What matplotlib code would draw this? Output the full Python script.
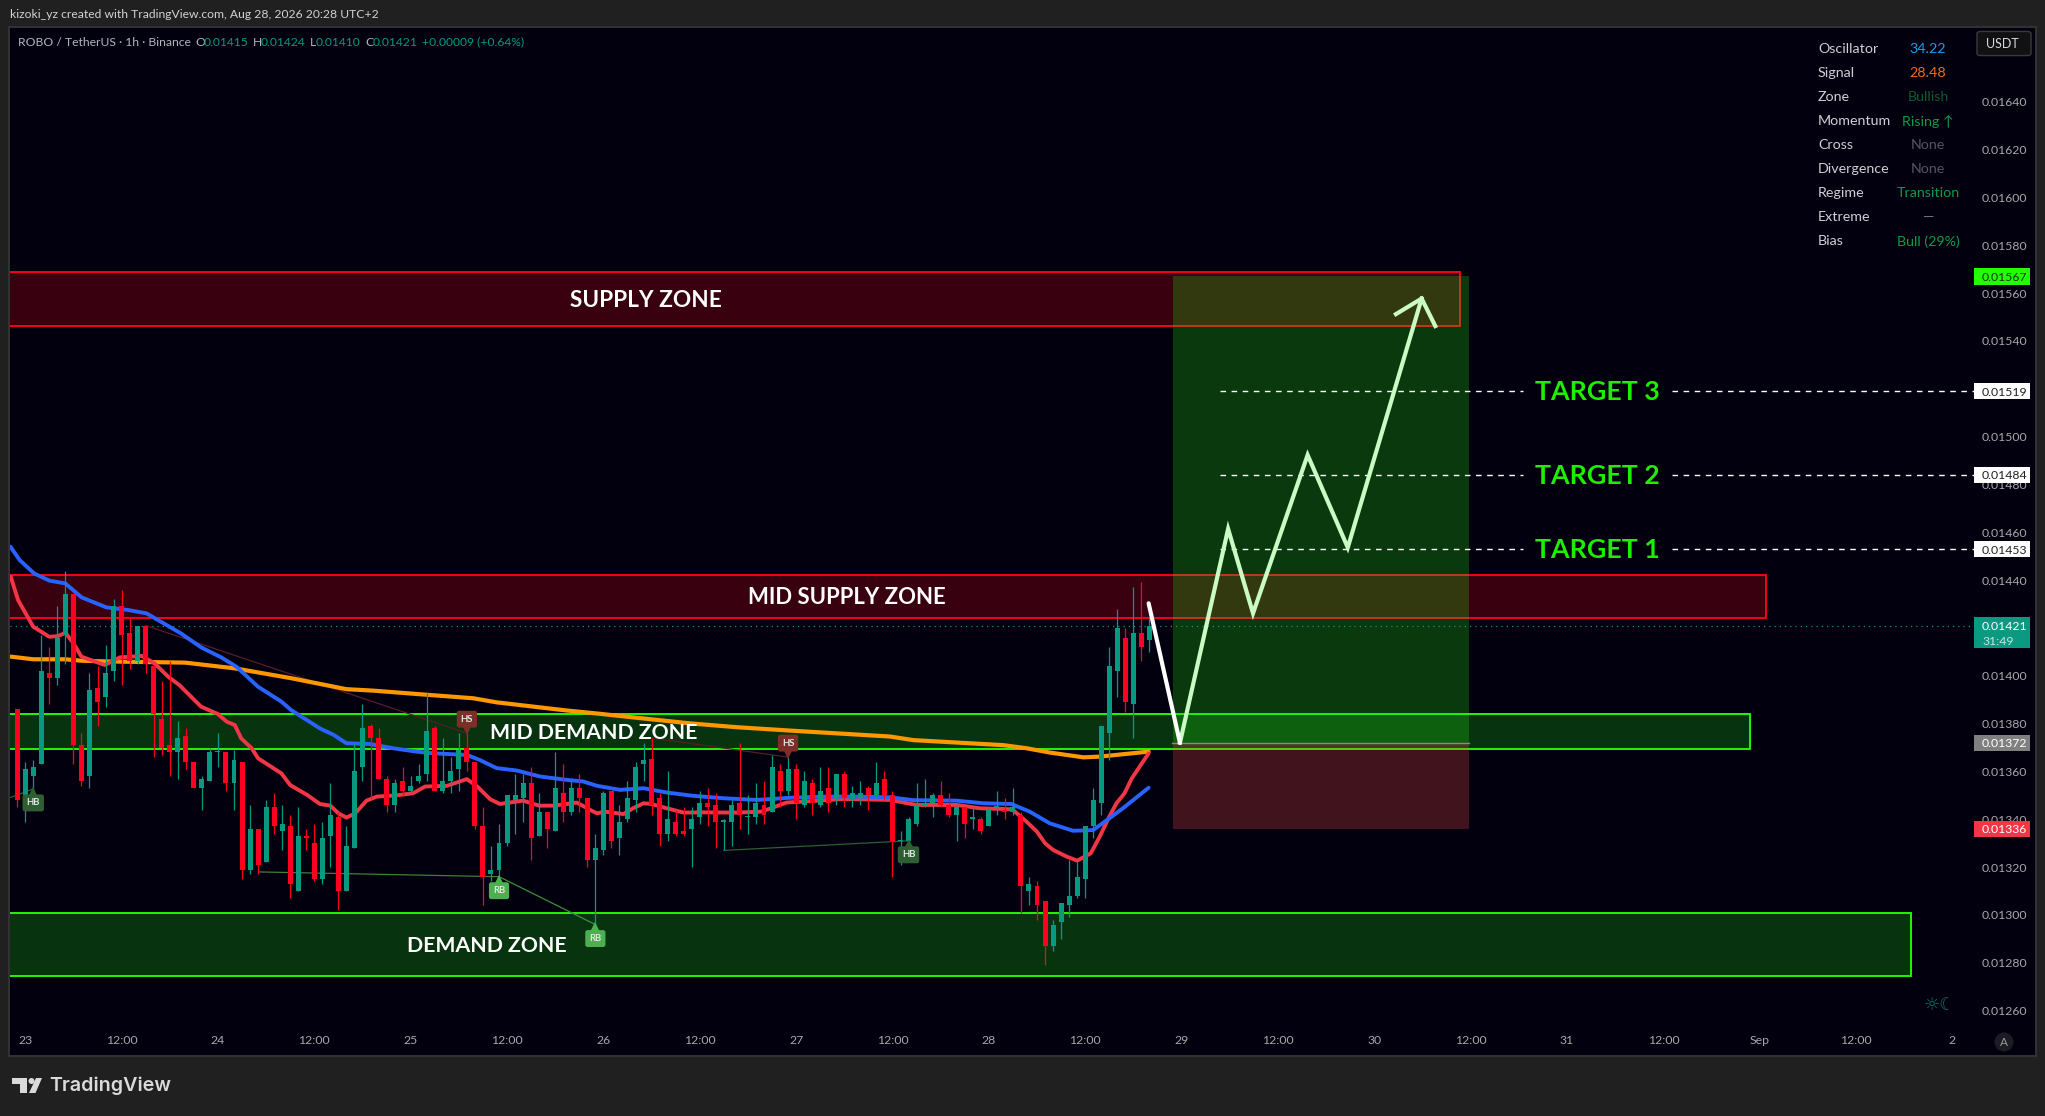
import numpy as np
import matplotlib
matplotlib.use("Agg")
import matplotlib.pyplot as plt
from matplotlib.patches import Rectangle, FancyBboxPatch, Polygon, Circle

W, H = 2045, 1116
UI_FONT = ['Lato', 'DejaVu Sans']
plt.rcParams['font.family'] = UI_FONT

# ---- data: prices in units of 0.00001 ----
opens = [1386,1350,1358,1363,1401,1399,1417,1434,1371,1358,
 1395,1391,1402,1429,1418,1406,1421,1404,1382,1371,
 1368,1375,1364,1353,1356,1368,1368,1355,1364,1319,
 1336,1322,1345,1335,1337,1310,1333,1330,1315,1333,
 1341,1310,1328,1362,1379,1374,1357,1346,1356,1352,
 1356,1359,1378,1352,1356,1361,1370,1364,1337,1317,
 1319,1330,1348,1349,1355,1333,1343,1335,1351,1343,
 1353,1349,1323,1327,1352,1332,1340,1348,1363,1365,
 1349,1334,1339,1335,1336,1341,1347,1346,1339,1339,
 1347,1341,1341,1346,1343,1360,1352,1361,1346,1355,
 1346,1353,1349,1359,1348,1349,1353,1350,1357,1350,
 1331,1331,1338,1346,1347,1350,1346,1342,1345,1340,
 1340,1337,1345,1344,1343,1342,1310,1312,1306,1287,
 1297,1304,1308,1315,1337,1347,1376,1402,1416,1388,
 1418,1415]
closes = [1348,1361,1362,1402,1399,1416,1434,1371,1356,1394,
 1389,1401,1429,1417,1406,1421,1405,1384,1370,1368,
 1374,1364,1353,1357,1368,1368,1355,1365,1319,1336,
 1321,1345,1337,1338,1313,1333,1332,1315,1332,1342,
 1310,1329,1360,1378,1374,1357,1346,1355,1352,1354,
 1358,1377,1352,1356,1360,1369,1364,1337,1316,1319,
 1330,1350,1350,1355,1332,1343,1336,1353,1343,1353,
 1349,1323,1328,1351,1331,1339,1349,1362,1365,1346,
 1334,1340,1334,1334,1340,1347,1345,1339,1339,1346,
 1342,1341,1347,1342,1362,1352,1361,1347,1356,1347,
 1352,1347,1359,1349,1351,1351,1350,1355,1350,1331,
 1331,1340,1346,1347,1350,1346,1342,1345,1338,1341,
 1335,1344,1345,1343,1345,1312,1313,1304,1287,1296,
 1305,1308,1316,1337,1348,1379,1404,1420,1389,1418,
 1412,1421]
highs = [1386,1364,1365,1417,1412,1429,1444,1434,1376,1401,
 1404,1413,1432,1436,1424,1421,1421,1404,1398,1406,
 1381,1378,1364,1358,1370,1376,1368,1369,1364,1346,
 1336,1348,1351,1346,1342,1345,1336,1338,1339,1355,
 1343,1337,1372,1388,1380,1378,1358,1357,1362,1358,
 1363,1393,1379,1374,1366,1376,1376,1364,1345,1329,
 1338,1350,1359,1359,1362,1351,1343,1368,1363,1356,
 1359,1349,1334,1352,1352,1346,1356,1364,1372,1374,
 1351,1360,1344,1345,1345,1352,1353,1351,1340,1348,
 1372,1350,1355,1356,1367,1363,1366,1363,1360,1357,
 1362,1362,1359,1360,1354,1356,1354,1364,1360,1352,
 1335,1341,1355,1357,1351,1356,1351,1346,1345,1345,
 1341,1345,1352,1349,1353,1343,1316,1314,1306,1298,
 1305,1323,1322,1337,1353,1379,1412,1428,1420,1437,
 1439,1424]
lows = [1345,1339,1352,1363,1388,1396,1405,1363,1354,1353,
 1379,1387,1398,1396,1403,1405,1401,1366,1367,1358,
 1357,1361,1353,1344,1356,1362,1352,1344,1315,1317,
 1317,1322,1334,1327,1307,1310,1327,1314,1313,1320,
 1302,1310,1328,1356,1349,1357,1343,1343,1350,1351,
 1355,1356,1352,1351,1351,1352,1360,1336,1304,1314,
 1316,1329,1334,1339,1323,1333,1328,1335,1339,1342,
 1343,1320,1296,1325,1328,1325,1339,1343,1356,1342,
 1329,1331,1333,1333,1320,1338,1337,1328,1327,1329,
 1336,1334,1338,1338,1343,1345,1350,1340,1345,1342,
 1345,1343,1346,1345,1345,1346,1344,1349,1348,1316,
 1321,1331,1337,1345,1341,1345,1341,1331,1332,1336,
 1334,1337,1342,1340,1342,1301,1304,1298,1279,1285,
 1290,1299,1307,1307,1332,1342,1365,1391,1385,1374,
 1406,1410]

blue_x = [-0.85,0.3,2.1,4,6,8,11.1,13.8,16.1,20.4,22.9,25.4,27.3,30,32.9,34.1,36.2,37.7,39.4,41,43.9,46.8,49.7,51.8,56,57.6,59.7,62.2,65.1,68.4,70.5,72.2,75.1,78,80.9,84.2,88,92.1,96.2,100.4,104.5,108.7,111.6,117,120.3,123.8,126.1,128.6,131.5,134,136,137.7,140.9]
blue_y = [1454,1448.4,1442.8,1439.8,1438.6,1432.8,1428.6,1427.5,1426.1,1417.7,1411.9,1407.7,1403.8,1395.4,1389.2,1385.7,1381.2,1378,1375.3,1371.8,1371.5,1369.7,1368.3,1367.6,1366.9,1364.8,1361.4,1360.4,1357.9,1356.5,1355.8,1354,1352.3,1353,1351.2,1349.8,1348.8,1348.1,1349,1349.5,1349.5,1349.2,1348,1347.8,1346.7,1346.4,1343.2,1338.3,1335.2,1335.5,1340.4,1344.6,1353.2]
red_x = [-0.8,0.1,2,4,5.1,6,7,8,10.9,12.8,15.5,17.1,18.8,20.2,22.9,25,26.1,27.1,27.9,29.2,30,32.9,34,36.1,37.7,39,40,41,42.1,43.5,44.8,47.2,49.3,50.8,53.5,56,57.3,58.9,60.1,63,65,66.8,69.7,71.3,72.2,73.2,75.5,76.7,78,79,80.9,83,85.4,89.6,92.7,95.8,97.9,102.9,108.7,112,117,119.9,123.9,125.7,127,128,129,130.7,132,133.7,134.8,136,136.9,137.9,138.8,140.9]
red_y = [1441.4,1431.7,1420.5,1416.3,1416.6,1418,1413.6,1408,1404.5,1407.7,1408.3,1405.2,1399.6,1396.1,1387.1,1384,1380.8,1379.4,1373.8,1369.7,1365.5,1359.2,1354.3,1350.2,1346.4,1345.7,1342.5,1340.7,1342.5,1347.8,1349.5,1350,1350.9,1353.7,1354,1356.8,1353.7,1348.4,1346.4,1347.8,1345.7,1345.7,1347,1344,1342.5,1343.2,1342.2,1344.6,1346.7,1346.4,1344.6,1342.8,1342.9,1342.8,1343.2,1347,1347.4,1348.5,1348.1,1346,1346,1344.6,1344.2,1339,1334.8,1330,1327.2,1324.4,1322.7,1325.8,1332.7,1341.1,1346.7,1350.9,1357.1,1367.6]
orange_x = [-0.8,2,5.9,8,11.1,20.9,27.1,34.1,37.7,41,44.3,49.7,56.8,59.7,64.3,68.4,72.6,76.7,83.8,89.6,96.2,108.7,111.6,122.8,125.7,128.6,132.8,134.8,140.9]
orange_y = [1408,1406.9,1406.9,1406.3,1406,1405.5,1403.1,1399,1396.6,1394.4,1393.8,1392.4,1390.6,1388.9,1387.1,1385.5,1384.1,1382.6,1380.1,1378.5,1377.1,1374.6,1373.1,1371,1369.7,1367.9,1365.9,1366.2,1368.3]

white_x = [140.9,144.8]
white_y = [1430.3,1372]
path_x = [144.8,150.8,153.9,160.7,165.7,174.9]
path_y = [1372,1461.4,1426.1,1492.3,1453.6,1557.7]
arrow_x = [171.7,174.9,176.6]
arrow_y = [1551.2,1557.7,1546.2]

zone_names = ["SUPPLY ZONE","MID SUPPLY ZONE","MID DEMAND ZONE","DEMAND ZONE"]
zone_top = [1568.6,1442.1,1384,1300.8]
zone_bot = [1546.2,1424.3,1369.4,1274.5]
zone_end = [179.7,217.8,215.8,235.8]
zone_label_x = [78.3,103.3,71.8,58.5]
zone_kind = ['s','s','d','d']
zone_fonts = [16.3,15.9,15.3,15.3]

target_names = ["TARGET 1","TARGET 2","TARGET 3"]
target_prices = [1453,1484,1519]
box_top, box_entry, box_stop = 1567,1372,1336
last_price = 1421

price_ticks = list(range(1260,1641,20))
time_labels = ["23","12:00","24","12:00","25","12:00","26","12:00","27","12:00","28","12:00","29","12:00","30","12:00","31","12:00","Sep","12:00","2"]

rows = ["Oscillator","Signal","Zone","Momentum","Cross","Divergence","Regime","Extreme","Bias"]
row_vals = ["34.22","28.48","Bullish","Rising ↑","None","None","Transition","—","Bull (29%)"]
row_cols = ['#1E9DE8','#F26B16','#0E5A2E','#0E9A4A','#55555F','#55555F','#0E9A4A','#77777F','#0E9A4A']

pivots = [("HB",'up',-0.9,1349,2,1352.7,'#2D5F33','#2D5F33'),
          ("HS",'dn',16,1421,56,1376,'#7A3028','#5A1C28'),
          ("RB",'up',30.1,1318,60,1316,'#4CAF50','#3F7F3A'),
          ("RB",'up',60,1316,72,1296,'#4CAF50','#3F8F3A'),
          ("HS",'dn',79,1374,96,1366,'#7A3028','#5A1C28'),
          ("HB",'up',88,1327,111,1331,'#2D5F33','#2D5F33')]

# ---- layout ----
PANE = '#02000F'; FRAME = '#202020'; GRID_TXT = '#A8A8A8'
CUP = '#089981'; CDN = '#FF0020'
AXFS = 8.8; HDFS = 8.7
fig = plt.figure(figsize=(W/100,H/100),dpi=100,facecolor=FRAME)
def fx(x): return x/W
def fy(y): return 1-y/H
fig.patches.append(Rectangle((fx(9),fy(1055.5)),(2035.5-9)/W,(1055.5-26.5)/H,transform=fig.transFigure,fc=PANE,ec='#333333',lw=1.4,zorder=-5))

L,R,T,B = 10,1974,27,1022
ax = fig.add_axes([fx(L),fy(B),(R-L)/W,(B-T)/H],facecolor='none',zorder=1)
PX_BAR = 8.03; PX_U = 2.392
bar_at = lambda px:(px-17.2)/PX_BAR
price_at = lambda py:1640-(py-101.7)/PX_U
ax.set_xlim(bar_at(L),bar_at(R))
ax.set_ylim(price_at(B),price_at(T))
for s in ax.spines.values(): s.set_visible(False)

ax.yaxis.tick_right()
ax.set_yticks(price_ticks)
ax.set_yticklabels([f"{p/100000:.5f}" for p in price_ticks],color=GRID_TXT,fontsize=AXFS)
ax.tick_params(axis='y',length=0,pad=5.8)
ax.set_xticks(list(range(1,1+12*len(time_labels),12)))
ax.set_xticklabels(time_labels,color=GRID_TXT,fontsize=AXFS)
ax.tick_params(axis='x',length=0,pad=9.3)

# zones
for n,t,b,e,lx,k,fs in zip(zone_names,zone_top,zone_bot,zone_end,zone_label_x,zone_kind,zone_fonts):
    fc,ec = ('#39000F','#FF0018') if k=='s' else ('#07340E','#22FF00')
    ax.add_patch(Rectangle((-5,b),e+5,t-b,fc=fc,ec=ec,lw=1.35,zorder=1))
    ax.annotate(n,(lx,(t+b)/2),xytext=(0,-0.9),textcoords='offset points',color='white',fontsize=fs,fontweight='bold',
            ha='center',va='center',zorder=8)

# EMA lines
ax.plot(orange_x,orange_y,color='#FF9800',lw=3,zorder=3,solid_capstyle='round')
ax.plot(red_x,red_y,color='#F23645',lw=2.8,zorder=3,solid_capstyle='round')
ax.plot(blue_x,blue_y,color='#2962FF',lw=2.8,zorder=3,solid_capstyle='round')

# pivot links
for lab,d,x0,y0,x1,y1,bc,lc in pivots:
    ax.plot([x0,x1],[y0,y1],color=lc,lw=0.9,zorder=2.5)

# candles
o,c,h,l = map(np.array,(opens,closes,highs,lows))
idx = np.arange(len(o))
cols = np.where(c>=o,CUP,CDN)
ax.vlines(idx,l,h,colors=cols,lw=0.9,zorder=4)
ax.bar(idx,np.maximum(np.abs(c-o),0.5),bottom=np.minimum(o,c),width=0.62,color=cols,lw=0,zorder=4.5)

# pivot markers
for lab,d,x0,y0,x1,y1,bc,lc in pivots:
    off = -14 if d=='up' else 14
    ax.plot([x1],[y1+(-1.6 if d=='up' else 1.6)],marker='^' if d=='up' else 'v',ms=8,color=bc,mew=0,zorder=5)
    ax.annotate(lab,(x1,y1),xytext=(0,off*0.72),textcoords='offset points',ha='center',va='center',
                color='#E4E4E4',fontsize=6.8,fontweight='bold',zorder=5.5,
                bbox=dict(boxstyle='round,pad=0.42,rounding_size=0.25',fc=bc,ec='none'))

# long position box
ax.add_patch(Rectangle((bar_at(1173),box_entry),bar_at(1469)-bar_at(1173),box_top-box_entry,fc=(33/255,223/255,12/255,0.26),ec='none',zorder=2))
ax.add_patch(Rectangle((bar_at(1173),box_stop),bar_at(1469)-bar_at(1173),box_entry-box_stop,fc=(244/255,77/255,70/255,0.26),ec='none',zorder=2))
ax.plot([bar_at(1172),bar_at(1469)],[box_entry,box_entry],color='#8A8A8A',lw=1,zorder=2.2)

# last price
ax.axhline(last_price,color=CUP,lw=0.9,ls=(0,(1,3.2)),zorder=2)

# projection path with arrow head
ax.plot(path_x,path_y,color='#CBFBC4',lw=3,zorder=6,solid_joinstyle='miter')
ax.plot(arrow_x,arrow_y,color='#CBFBC4',lw=3,zorder=6,solid_joinstyle='miter')
ax.plot(white_x,white_y,color='white',lw=3,zorder=6.2,solid_capstyle='round')

# targets
for n,p in zip(target_names,target_prices):
    for a,b in ((1220,1523),(1672,1974)):
        ax.plot([bar_at(a),bar_at(b)],[p,p],color='white',lw=1,ls=(0,(4,4)),zorder=5,clip_on=False)
    ax.annotate(n,(bar_at(1597),p),xytext=(0,-0.9),textcoords='offset points',color='#1FEE00',fontsize=19.3,fontweight='bold',ha='center',va='center',zorder=8)

# axis price boxes
tr = ax.get_yaxis_transform()
bw = 56/(R-L)
def plabel(p,fc,tc,txt=None,h=8.25):
    hu = h/PX_U
    ax.add_patch(Rectangle((1.0,p-hu),bw,2*hu,transform=tr,fc=fc,ec='none',clip_on=False,zorder=9))
    ax.text(1+8/(R-L),p,txt or f"{p/100000:.5f}",transform=tr,color=tc,fontsize=AXFS,va='center_baseline',ha='left',zorder=10,clip_on=False)
plabel(box_top,'#22FF00','#14330C')
for p in target_prices: plabel(p,'white','#222222')
plabel(box_entry,'#808080','white')
plabel(box_stop,'#F23645','white')
ax.add_patch(Rectangle((1.0,last_price-22/PX_U),bw,(8.5+22)/PX_U,transform=tr,fc='#0A9981',ec='none',clip_on=False,zorder=9))
ax.text(1+8/(R-L),last_price,f"{last_price/100000:.5f}",transform=tr,color='white',fontsize=AXFS,va='center_baseline',zorder=10,clip_on=False)
ax.text(1+8/(R-L),last_price-14.5/PX_U,"31:49",transform=tr,color='#BFE8DF',fontsize=AXFS,va='center_baseline',zorder=10,clip_on=False)

# header
fig.text(fx(10),fy(15),"kizoki_yz created with TradingView.com, Aug 28, 2026 20:28 UTC+2",color='#D2D2D2',fontsize=HDFS,va='center')
LEG = '#B2B5BE'
fig.text(fx(18),fy(42),"ROBO / TetherUS · 1h · Binance",color=LEG,fontsize=HDFS,va='center')
for t,x,col in [("O",195,LEG),("0.01415",203.6,CUP),("H",252.6,LEG),("0.01424",261,CUP),("L",310,LEG),("0.01410",316,CUP),("C",365.5,LEG),("0.01421",373,CUP),("+0.00009 (+0.64%)",422,CUP)]:
    fig.text(fx(x),fy(42),t,color=col,fontsize=HDFS,va='center')

# table
for i,(r,v,col) in enumerate(zip(rows,row_vals,row_cols)):
    y = 49.3+24*i
    fig.text(fx(1818),fy(y),r,color='#CFCFD4',fontsize=10.3,va='center')
    fig.text(fx(1928),fy(y),v,color=col,fontsize=10.3,va='center',ha='center')

# USDT button
fig.patches.append(FancyBboxPatch((fx(1978),fy(55)),52/W,23/H,boxstyle="round,pad=0.0005,rounding_size=0.002",transform=fig.transFigure,fc='#111114',ec='#3A3A3A',lw=1,zorder=-4))
fig.text(fx(2002),fy(44),"USDT",color='#D8D8D8',fontsize=9,va='center',ha='center')

# sun/moon & auto
fig.text(fx(1940),fy(1005),"☼☾",color='#0B7468',fontsize=13,va='center',ha='center',family='DejaVu Sans')
fig.patches.append(Circle((2004,H-1042),9.5,transform=None,fc='#1C1C24',ec='none',zorder=-4))
fig.text(fx(2004),fy(1042.5),"A",color='#9A9A9A',fontsize=8.5,va='center',ha='center')

# logo
LOGO='#DADADA'
fig.patches.append(Polygon([(12,H-1078),(27,H-1078),(27,H-1093),(20,H-1093),(20,H-1084),(12,H-1084)],transform=None,fc=LOGO,ec='none'))
fig.patches.append(Circle((31.5,H-1081),3,transform=None,fc=LOGO,ec='none'))
fig.patches.append(Polygon([(36,H-1078),(42,H-1078),(35.5,H-1093),(29,H-1093)],transform=None,fc=LOGO,ec='none'))
fig.text(fx(49),fy(1086),"TradingView",color=LOGO,fontsize=14.2,fontweight='semibold',va='center',family='Inter')

fig.savefig('out.png',dpi=100,facecolor=FRAME)
